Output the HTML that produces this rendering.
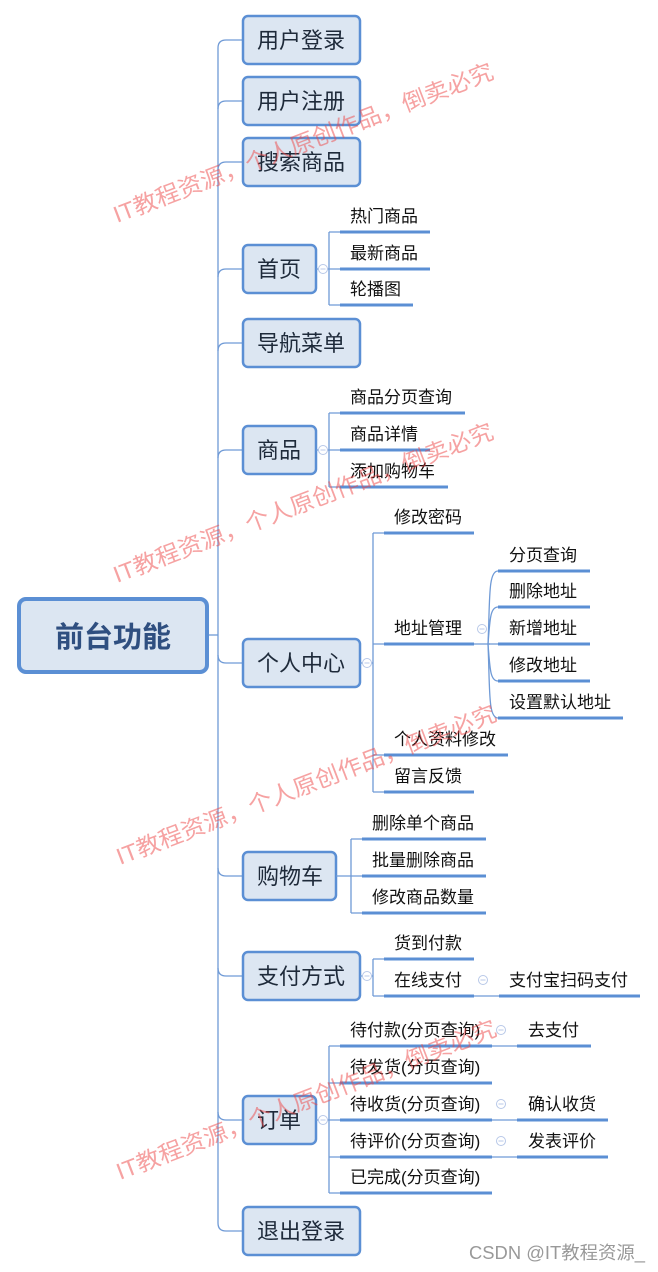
<!DOCTYPE html>
<html><head><meta charset="utf-8"><style>
html,body{margin:0;padding:0;background:#fff;}
svg{display:block;}
.b{fill:#dce6f2;stroke:#5b8fd4;stroke-width:2.5;}
.t1{font-family:"Liberation Sans","Noto Sans CJK SC",sans-serif;font-size:22px;fill:#1e2a3a;}
.t2{font-family:"Liberation Sans","Noto Sans CJK SC",sans-serif;font-size:17px;fill:#111;}
.u{stroke:#5b8fd4;stroke-width:3;}
.l{stroke:#6f9ad6;stroke-width:1.3;fill:none;}
.c{fill:#fff;stroke:#b8c8e8;stroke-width:1;}
.wm{font-family:"Liberation Sans","Noto Sans CJK SC",sans-serif;font-size:23px;fill:rgba(238,70,70,0.5);}
</style></head><body>
<svg width="658" height="1272" viewBox="0 0 658 1272" xmlns="http://www.w3.org/2000/svg">
<defs><g id="cm"><circle class="c" cx="0" cy="0" r="4.5"/><line x1="-2.5" y1="0" x2="2.5" y2="0" stroke="#b8c8e8" stroke-width="1"/></g></defs>
<path class="l" d="M218,48 L218,1223"/>
<path class="l" d="M208,635 L218,635"/>
<g class="l">
<path d="M218,48 Q218,40 226,40 L243,40"/>
<path d="M218,109 Q218,101 226,101 L243,101"/>
<path d="M218,170 Q218,162 226,162 L243,162"/>
<path d="M218,277 Q218,269 226,269 L243,269"/>
<path d="M218,351 Q218,343 226,343 L243,343"/>
<path d="M218,458 Q218,450 226,450 L243,450"/>
<path d="M218,655 Q218,663 226,663 L243,663"/>
<path d="M218,868 Q218,876 226,876 L243,876"/>
<path d="M218,968 Q218,976 226,976 L243,976"/>
<path d="M218,1112 Q218,1120 226,1120 L243,1120"/>
<path d="M218,1223 Q218,1231 226,1231 L243,1231"/>
</g>
<rect x="19" y="599" width="188" height="73" rx="7" fill="#dce6f2" stroke="#5b8fd4" stroke-width="4"/>
<text x="113" y="647" text-anchor="middle" style="font-family:'Liberation Sans','Noto Sans CJK SC',sans-serif;font-size:29px;font-weight:bold;fill:#2f4f80">前台功能</text>
<rect class="b" x="243" y="16" width="117" height="48" rx="5"/><text class="t1" x="257" y="48">用户登录</text>
<rect class="b" x="243" y="77" width="117" height="48" rx="5"/><text class="t1" x="257" y="109">用户注册</text>
<rect class="b" x="243" y="138" width="117" height="48" rx="5"/><text class="t1" x="257" y="170">搜索商品</text>
<rect class="b" x="243" y="245" width="73" height="48" rx="5"/><text class="t1" x="257" y="277">首页</text>
<rect class="b" x="243" y="319" width="117" height="48" rx="5"/><text class="t1" x="257" y="351">导航菜单</text>
<rect class="b" x="243" y="426" width="73" height="48" rx="5"/><text class="t1" x="257" y="458">商品</text>
<rect class="b" x="243" y="639" width="117" height="48" rx="5"/><text class="t1" x="257" y="671">个人中心</text>
<rect class="b" x="243" y="852" width="93" height="48" rx="5"/><text class="t1" x="257" y="884">购物车</text>
<rect class="b" x="243" y="952" width="117" height="48" rx="5"/><text class="t1" x="257" y="984">支付方式</text>
<rect class="b" x="243" y="1096" width="73" height="48" rx="5"/><text class="t1" x="257" y="1128">订单</text>
<rect class="b" x="243" y="1207" width="117" height="48" rx="5"/><text class="t1" x="257" y="1239">退出登录</text>

<path class="l" d="M316,269 L329,269 M329,232 L329,305 M329,232 L340,232 M329,269 L340,269 M329,305 L340,305"/>
<use href="#cm" x="323" y="269"/>
<line class="u" x1="340" y1="232" x2="430" y2="232"/><text class="t2" x="350" y="222">热门商品</text>
<line class="u" x1="340" y1="269" x2="430" y2="269"/><text class="t2" x="350" y="259">最新商品</text>
<line class="u" x1="340" y1="305" x2="413" y2="305"/><text class="t2" x="350" y="295">轮播图</text>

<path class="l" d="M316,450 L329,450 M329,413 L329,487 M329,413 L340,413 M329,450 L340,450 M329,487 L340,487"/>
<use href="#cm" x="323" y="450"/>
<line class="u" x1="340" y1="413" x2="465" y2="413"/><text class="t2" x="350" y="403">商品分页查询</text>
<line class="u" x1="340" y1="450" x2="430" y2="450"/><text class="t2" x="350" y="440">商品详情</text>
<line class="u" x1="340" y1="487" x2="448" y2="487"/><text class="t2" x="350" y="477">添加购物车</text>

<path class="l" d="M360,663 L373,663 M373,533 L373,792 M373,533 L384,533 M373,644 L384,644 M373,755 L384,755 M373,792 L384,792"/>
<use href="#cm" x="367" y="663"/>
<line class="u" x1="384" y1="533" x2="474" y2="533"/><text class="t2" x="394" y="523">修改密码</text>
<line class="u" x1="384" y1="644" x2="474" y2="644"/><text class="t2" x="394" y="634">地址管理</text>
<line class="u" x1="384" y1="755" x2="508" y2="755"/><text class="t2" x="394" y="745">个人资料修改</text>
<line class="u" x1="384" y1="792" x2="474" y2="792"/><text class="t2" x="394" y="782">留言反馈</text>
<use href="#cm" x="482" y="629"/>
<g class="l">
<path d="M474,644 L490,644"/>
<path d="M488,644 C490,600 488,571 498,571"/>
<path d="M488,644 C490,620 490,607 498,607"/>
<path d="M488,644 L498,644"/>
<path d="M488,644 C490,668 490,681 498,681"/>
<path d="M488,644 C490,690 488,718 498,718"/>
</g>
<line class="u" x1="498" y1="571" x2="590" y2="571"/><text class="t2" x="509" y="561">分页查询</text>
<line class="u" x1="498" y1="607" x2="590" y2="607"/><text class="t2" x="509" y="597">删除地址</text>
<line class="u" x1="498" y1="644" x2="590" y2="644"/><text class="t2" x="509" y="634">新增地址</text>
<line class="u" x1="498" y1="681" x2="590" y2="681"/><text class="t2" x="509" y="671">修改地址</text>
<line class="u" x1="498" y1="718" x2="623" y2="718"/><text class="t2" x="509" y="708">设置默认地址</text>

<path class="l" d="M336,876 L351,876 M351,839 L351,913 M351,839 L362,839 M351,876 L362,876 M351,913 L362,913"/>
<line class="u" x1="362" y1="839" x2="486" y2="839"/><text class="t2" x="372" y="829">删除单个商品</text>
<line class="u" x1="362" y1="876" x2="486" y2="876"/><text class="t2" x="372" y="866">批量删除商品</text>
<line class="u" x1="362" y1="913" x2="486" y2="913"/><text class="t2" x="372" y="903">修改商品数量</text>

<path class="l" d="M360,976 L373,976 M373,959 L373,996 M373,959 L384,959 M373,996 L384,996 M474,996 L499,996"/>
<use href="#cm" x="367" y="976"/>
<line class="u" x1="384" y1="959" x2="474" y2="959"/><text class="t2" x="394" y="949">货到付款</text>
<line class="u" x1="384" y1="996" x2="474" y2="996"/><text class="t2" x="394" y="986">在线支付</text>
<use href="#cm" x="483" y="980"/>
<line class="u" x1="499" y1="996" x2="640" y2="996"/><text class="t2" x="509" y="986">支付宝扫码支付</text>

<path class="l" d="M316,1120 L329,1120 M329,1046 L329,1193 M329,1046 L340,1046 M329,1083 L340,1083 M329,1120 L340,1120 M329,1157 L340,1157 M329,1193 L340,1193 M492,1046 L517,1046 M492,1120 L517,1120 M492,1157 L517,1157"/>
<use href="#cm" x="323" y="1120"/>
<line class="u" x1="340" y1="1046" x2="492" y2="1046"/><text class="t2" x="350" y="1036">待付款(分页查询)</text>
<line class="u" x1="340" y1="1083" x2="492" y2="1083"/><text class="t2" x="350" y="1073">待发货(分页查询)</text>
<line class="u" x1="340" y1="1120" x2="492" y2="1120"/><text class="t2" x="350" y="1110">待收货(分页查询)</text>
<line class="u" x1="340" y1="1157" x2="492" y2="1157"/><text class="t2" x="350" y="1147">待评价(分页查询)</text>
<line class="u" x1="340" y1="1193" x2="492" y2="1193"/><text class="t2" x="350" y="1183">已完成(分页查询)</text>
<use href="#cm" x="501" y="1030"/>
<use href="#cm" x="501" y="1104"/>
<use href="#cm" x="501" y="1141"/>
<line class="u" x1="517" y1="1046" x2="591" y2="1046"/><text class="t2" x="528" y="1036">去支付</text>
<line class="u" x1="517" y1="1120" x2="608" y2="1120"/><text class="t2" x="528" y="1110">确认收货</text>
<line class="u" x1="517" y1="1157" x2="608" y2="1157"/><text class="t2" x="528" y="1147">发表评价</text>

<text class="wm" transform="translate(117,223) rotate(-21)" textLength="405" lengthAdjust="spacingAndGlyphs">IT教程资源，个人原创作品，倒卖必究</text>
<text class="wm" transform="translate(117,583) rotate(-21)" textLength="405" lengthAdjust="spacingAndGlyphs">IT教程资源，个人原创作品，倒卖必究</text>
<text class="wm" transform="translate(120,865) rotate(-21)" textLength="405" lengthAdjust="spacingAndGlyphs">IT教程资源，个人原创作品，倒卖必究</text>
<text class="wm" transform="translate(120,1180) rotate(-21)" textLength="405" lengthAdjust="spacingAndGlyphs">IT教程资源，个人原创作品，倒卖必究</text>

<text x="469" y="1259" textLength="176" lengthAdjust="spacingAndGlyphs" style="font-family:'Liberation Sans','Noto Sans CJK SC',sans-serif;font-size:18px;fill:#999">CSDN @IT教程资源_</text>
</svg>
</body></html>
